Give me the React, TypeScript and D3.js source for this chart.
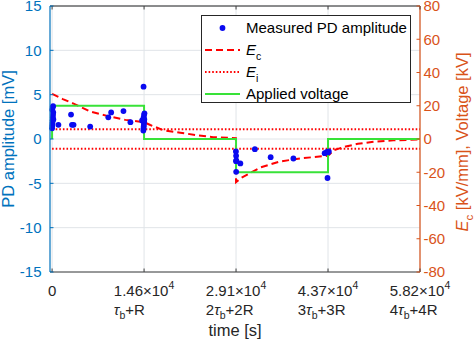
import React, { useEffect, useRef } from "react";
import * as d3 from "d3";

// ---- data ----
const xTickValues = [0, 14560, 29120, 43680, 58240];
const xTickMantissa = ["0", "1.46", "2.91", "4.37", "5.82"];
const xTickExponent = ["", "4", "4", "4", "4"];
const xTickTauCoef = ["", "", "2", "3", "4"];
const xTickTauSuffix = ["", "+R", "+2R", "+3R", "+4R"];
const leftTicks = [-15, -10, -5, 0, 5, 10, 15];
const rightTicks = [-80, -60, -40, -20, 0, 20, 40, 60, 80];

const voltageTime = [0, 0, 14560, 14560, 29120, 29120, 43680, 43680, 58240];
const voltageKV = [0, 20, 20, 0, 0, -20, -20, 0, 0];

const ecTime = [0, 1700, 3400, 6050, 8700, 11600, 14560, 15550, 17600, 20300, 22700, 25500, 29100, 29120, 29900, 33000, 36000, 39400, 43680, 44600, 46500, 48400, 51000, 54000, 58240];
const ecValue = [27.2, 24, 21.3, 16.5, 13.9, 11.5, 10.1, 8.4, 5.3, 3.8, 2.4, 1.1, 0.5, -25.9, -23.5, -17.1, -13.6, -11.6, -10.1, -6.7, -4.5, -2.9, -1.6, -0.8, -0.3];

const eiTime = [0, 58240];
const eiValue = 5.9;

const pdTime = [
  0, 30, 60, 90, 120, 150, 180, 40, 100, 160, 200,
  1000, 3000, 3150, 3400, 6030, 8900, 9350, 11300, 12400, 14250, 14480,
  14450, 14480, 14510, 14540, 14570, 14600, 14500, 14560, 14620,
  29100, 29130, 29160, 29120, 29140, 29800,
  32100, 34600, 38200,
  43150, 43500, 43800, 43600, 43700,
];
const pdAmp = [
  1.2, 1.5, 1.8, 2.1, 2.4, 2.7, 3.0, 3.3, 3.6, 3.7, 2.2,
  1.6, 2.75, 1.6, 1.6, 1.4, 2.45, 3.0, 3.15, 1.9, 2.1, 5.9,
  0.95, 1.2, 1.45, 1.7, 1.95, 2.2, 2.45, 2.7, 2.9,
  -1.4, -1.9, -2.4, -2.5, -3.7, -2.75,
  -1.15, -2.05, -2.2,
  -1.6, -1.45, -1.4, -4.4, -1.5,
];

const legendLabels = ["Measured PD amplitude", "E|c", "E|i", "Applied voltage"];

const FONT = "'Liberation Sans', Arial, Helvetica, sans-serif";
const BLUE_AX = "#0072BD";
const ORANGE_AX = "#D95319";
const DARK = "#262626";

export default function App() {
  const ref = useRef<SVGSVGElement | null>(null);

  useEffect(() => {
    const svg = d3.select(ref.current);
    svg.selectAll("*").remove();

    const L = 50, R = 420, T = 6, B = 272;
    const x = d3.scaleLinear().domain([-330, 58240]).range([L, R]);
    const yL = d3.scaleLinear().domain([-15, 15]).range([B, T]);
    const yR = d3.scaleLinear().domain([-80, 80]).range([B, T]);

    svg.append("rect").attr("x", L).attr("y", T).attr("width", R - L).attr("height", B - T).attr("fill", "#fff");

    // grid
    const grid = svg.append("g").attr("stroke", "#e0e4e8").attr("stroke-width", 1);
    xTickValues.forEach((v) => {
      grid.append("line").attr("x1", x(v)).attr("x2", x(v)).attr("y1", T).attr("y2", B);
    });
    leftTicks.forEach((v) => {
      grid.append("line").attr("x1", L).attr("x2", R).attr("y1", yL(v)).attr("y2", yL(v));
    });

    // data lines
    const vLine = d3.line<number>().x((_, i) => x(voltageTime[i])).y((d) => yR(d));
    const ecLine = d3.line<number>().x((_, i) => x(ecTime[i])).y((d) => yR(d));

    svg.append("path").attr("d", ecLine(ecValue)!).attr("fill", "none").attr("stroke", "#ff0000")
      .attr("stroke-width", 2).attr("stroke-dasharray", "7 4");
    [eiValue, -eiValue].forEach((v) => {
      svg.append("line").attr("x1", x(eiTime[0])).attr("x2", x(eiTime[1])).attr("y1", yR(v)).attr("y2", yR(v))
        .attr("stroke", "#ff0000").attr("stroke-width", 2).attr("stroke-dasharray", "1.6 2");
    });
    svg.append("path").attr("d", vLine(voltageKV)!).attr("fill", "none").attr("stroke", "#38e238").attr("stroke-width", 2);

    // points
    svg.append("g").selectAll("circle").data(pdAmp).join("circle")
      .attr("cx", (_, i) => x(pdTime[i])).attr("cy", (d) => yL(d)).attr("r", 2.9).attr("fill", "#0a0af0");

    // axes lines
    svg.append("line").attr("x1", L).attr("x2", R).attr("y1", T).attr("y2", T).attr("stroke", DARK).attr("stroke-width", 1);
    svg.append("line").attr("x1", L).attr("x2", R).attr("y1", B).attr("y2", B).attr("stroke", "#404040").attr("stroke-width", 1);
    svg.append("line").attr("x1", L).attr("x2", L).attr("y1", T).attr("y2", B).attr("stroke", BLUE_AX).attr("stroke-width", 1.2);
    svg.append("line").attr("x1", R).attr("x2", R).attr("y1", T).attr("y2", B).attr("stroke", ORANGE_AX).attr("stroke-width", 1.2);

    // x ticks + labels
    xTickValues.forEach((v, i) => {
      const xv = x(v);
      svg.append("line").attr("x1", xv).attr("x2", xv).attr("y1", B).attr("y2", B - 3.5).attr("stroke", "#404040");
      svg.append("line").attr("x1", xv).attr("x2", xv).attr("y1", T).attr("y2", T + 3.5).attr("stroke", "#404040");
      const t1 = svg.append("text").attr("x", xv).attr("y", 295.5).attr("text-anchor", "middle")
        .attr("fill", DARK).style("font-family", FONT).style("font-size", "15px");
      t1.append("tspan").text(xTickMantissa[i] + (xTickExponent[i] ? "×10" : ""));
      if (xTickExponent[i]) {
        t1.append("tspan").attr("dy", -6.5).style("font-size", "10.5px").text(xTickExponent[i]);
      }
      if (xTickTauSuffix[i]) {
        const bb = (t1.node() as SVGTextElement).getBBox();
        const t2 = svg.append("text").attr("x", bb.x).attr("y", 315).attr("text-anchor", "start")
          .attr("fill", DARK).style("font-family", FONT).style("font-size", "15px");
        if (xTickTauCoef[i]) t2.append("tspan").text(xTickTauCoef[i]);
        t2.append("tspan").style("font-style", "italic").text("τ");
        t2.append("tspan").attr("dy", 4).style("font-size", "10.5px").text("b");
        t2.append("tspan").attr("dy", -4).text(xTickTauSuffix[i]);
      }
    });
    svg.append("text").attr("x", (L + R) / 2).attr("y", 335.5).attr("text-anchor", "middle").attr("fill", DARK)
      .style("font-family", FONT).style("font-size", "16.5px").text("time [s]");

    // left axis
    leftTicks.forEach((v) => {
      svg.append("line").attr("x1", L).attr("x2", L + 3.5).attr("y1", yL(v)).attr("y2", yL(v)).attr("stroke", BLUE_AX);
      svg.append("text").attr("x", 41.5).attr("y", yL(v)).attr("dy", "0.36em").attr("text-anchor", "end")
        .attr("fill", BLUE_AX).style("font-family", FONT).style("font-size", "15px").text(String(v));
    });
    svg.append("text").attr("transform", `translate(13.5,${(T + B) / 2}) rotate(-90)`).attr("text-anchor", "middle")
      .attr("fill", BLUE_AX).style("font-family", FONT).style("font-size", "16.5px").text("PD amplitude [mV]");

    // right axis
    rightTicks.forEach((v) => {
      svg.append("line").attr("x1", R).attr("x2", R - 3.5).attr("y1", yR(v)).attr("y2", yR(v)).attr("stroke", ORANGE_AX);
      svg.append("text").attr("x", 423.5).attr("y", yR(v)).attr("dy", "0.36em").attr("text-anchor", "start")
        .attr("fill", ORANGE_AX).style("font-family", FONT).style("font-size", "15px").text(String(v));
    });
    const rl = svg.append("text").attr("transform", `translate(468,${(T + B) / 2 + 3}) rotate(-90)`).attr("text-anchor", "middle")
      .attr("fill", ORANGE_AX).style("font-family", FONT).style("font-size", "16.5px");
    rl.append("tspan").style("font-style", "italic").text("E");
    rl.append("tspan").attr("dy", 4.5).style("font-size", "11.5px").text("c");
    rl.append("tspan").attr("dy", -4.5).text(" [kV/mm], Voltage [kV]");

    // legend
    const lg = svg.append("g");
    lg.append("rect").attr("x", 201.5).attr("y", 15.5).attr("width", 209).attr("height", 87)
      .attr("fill", "#fff").attr("stroke", DARK).attr("stroke-width", 1);
    const rowY = (i: number) => 28 + i * 22;
    const sx1 = 205, sx2 = 240, tx = 246;
    lg.append("circle").attr("cx", (sx1 + sx2) / 2).attr("cy", rowY(0)).attr("r", 2.9).attr("fill", "#0a0af0");
    lg.append("line").attr("x1", sx1).attr("x2", sx2).attr("y1", rowY(1)).attr("y2", rowY(1)).attr("stroke", "#ff0000")
      .attr("stroke-width", 2).attr("stroke-dasharray", "7 4");
    lg.append("line").attr("x1", sx1).attr("x2", sx2).attr("y1", rowY(2)).attr("y2", rowY(2)).attr("stroke", "#ff0000")
      .attr("stroke-width", 2).attr("stroke-dasharray", "1.6 2");
    lg.append("line").attr("x1", sx1).attr("x2", sx2).attr("y1", rowY(3)).attr("y2", rowY(3)).attr("stroke", "#38e238")
      .attr("stroke-width", 2);
    legendLabels.forEach((lab, i) => {
      const t = lg.append("text").attr("x", tx).attr("y", rowY(i)).attr("dy", "0.36em").attr("fill", "#000")
        .style("font-family", FONT).style("font-size", "15px");
      if (lab.includes("|")) {
        const [a, b] = lab.split("|");
        t.append("tspan").style("font-style", "italic").text(a);
        t.append("tspan").attr("dy", 4.5).style("font-size", "10.5px").text(b);
      } else {
        t.text(lab);
      }
    });
  }, []);

  return (
    <svg ref={ref} width={474} height={346} style={{ position: "absolute", left: 0, top: 0, background: "#fff" }} />
  );
}
